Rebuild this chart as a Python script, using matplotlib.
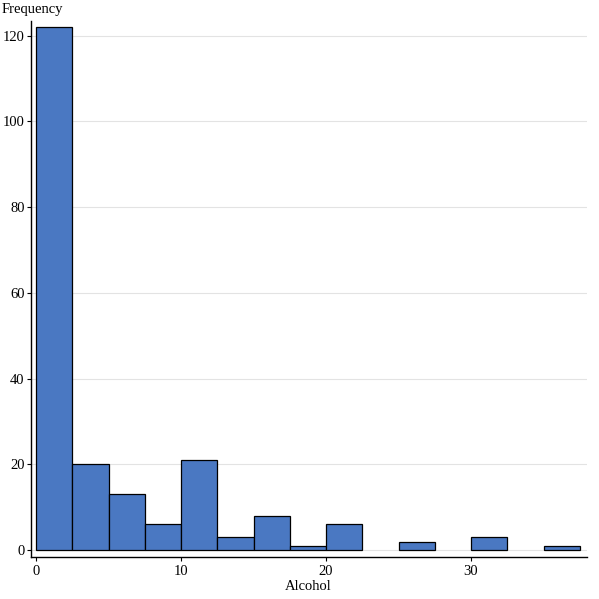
import matplotlib
matplotlib.use("Agg")
import matplotlib.pyplot as plt
import numpy as np

bin_edges = [0, 2.5, 5, 7.5, 10, 12.5, 15, 17.5, 20, 22.5, 25, 27.5, 30, 32.5, 35, 37.5]
counts = [122, 20, 13, 6, 21, 3, 8, 1, 6, 0, 2, 0, 3, 0, 1]
x_ticks = [0, 10, 20, 30]
y_ticks = [0, 20, 40, 60, 80, 100, 120]

plt.rcParams['font.family'] = ['Liberation Serif', 'DejaVu Serif']
fig = plt.figure(figsize=(5.99, 5.99), dpi=100)
ax = fig.add_axes([31/599, 1 - 557/599, (587 - 31)/599, (557 - 21)/599])

left = np.array(bin_edges[:-1])
widths = np.diff(bin_edges)
mask = np.array(counts) > 0
ax.bar(left[mask], np.array(counts)[mask], width=widths[mask], align='edge',
       color='#4a78c2', edgecolor='black', linewidth=0.9, zorder=3)

ax.set_xlim(-0.35, 38.0)
ax.set_ylim(-1.6, 123.4)
ax.set_xticks(x_ticks)
ax.set_yticks(y_ticks)
ax.yaxis.grid(True, color='#e3e3e3', linewidth=0.8, zorder=0)
ax.set_axisbelow(True)
for s in ['top', 'right']:
    ax.spines[s].set_visible(False)
for s in ['left', 'bottom']:
    ax.spines[s].set_linewidth(1.0)
ax.tick_params(axis='both', length=3, width=0.8, labelsize=10.5, colors='black')
ax.tick_params(axis='x', pad=3)
ax.tick_params(axis='y', pad=1.5)

fig.text(2/599, 1 - 10/599, 'Frequency', fontsize=10.5, ha='left', va='center')
fig.text(308/599, 1 - 586/599, 'Alcohol', fontsize=10.5, ha='center', va='center')

fig.savefig('out.png', dpi=100)
